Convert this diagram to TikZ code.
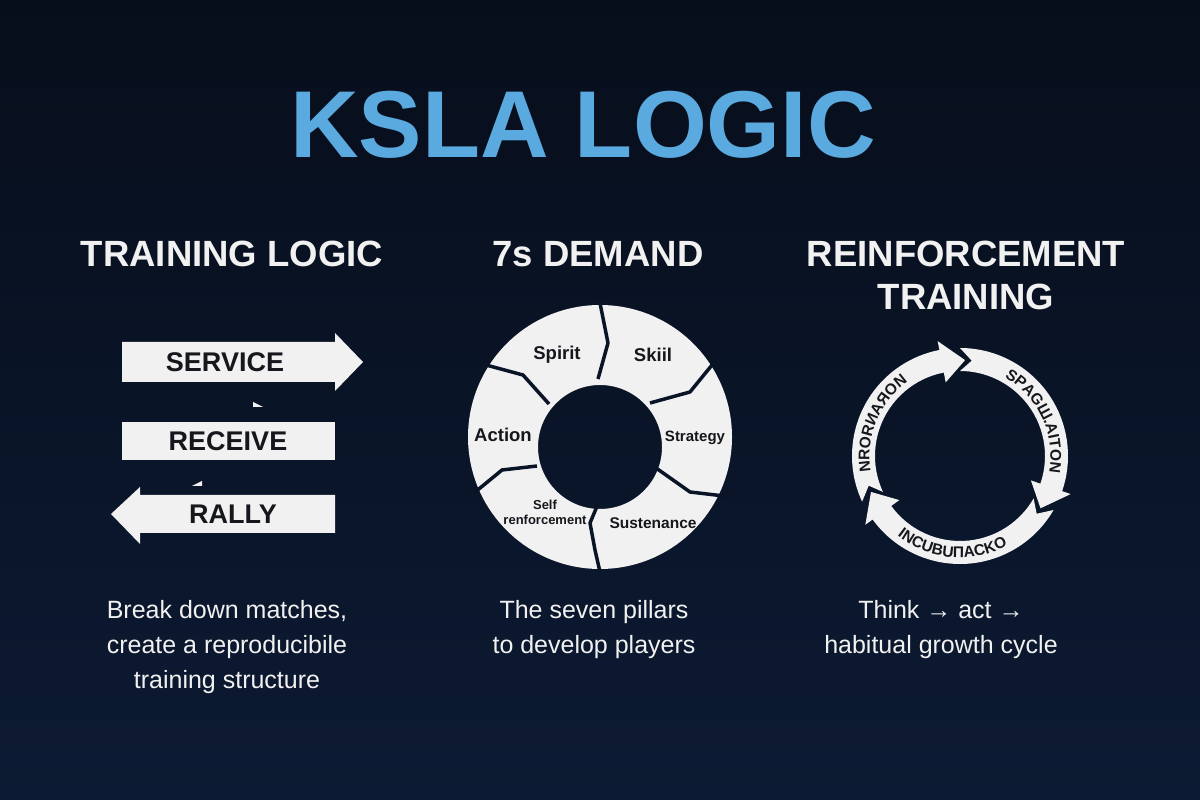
\documentclass[tikz,border=0pt]{standalone}
\usepackage{fontspec}
\setmainfont{Liberation Sans}
\usetikzlibrary{decorations.text}

\definecolor{bgtop}{HTML}{070E1B}
\definecolor{bgbot}{HTML}{0C1A33}
\definecolor{ksblue}{HTML}{5BAADF}
\definecolor{paper}{HTML}{F1F1F1}
\definecolor{ink}{HTML}{15171C}
\definecolor{cut}{HTML}{0A1427}

\tikzset{
  heading/.style={anchor=base, text=paper, font=\bfseries\fontsize{36.5}{43}\selectfont, align=center},
  caption/.style={anchor=north, inner sep=0pt, text=paper, font=\fontsize{25}{35}\selectfont, align=center},
  boxtext/.style={text=ink, font=\bfseries\fontsize{27}{30}\selectfont},
  pillar/.style={text=ink, font=\bfseries\fontsize{18.5}{19}\selectfont, align=center},
  cyctext/.style={decorate, decoration={text along path, text align=center, text color=ink}},
}

\begin{document}
\begin{tikzpicture}[x=1pt,y=1pt]

% background
\shade[top color=bgtop, bottom color=bgbot] (0,0) rectangle (1200,800);
\useasboundingbox (0,0) rectangle (1200,800);

% title and headings
\node[anchor=base, text=ksblue, font=\bfseries\fontsize{95}{100}\selectfont] (title) at (583,642) {KSLA LOGIC};
\node[heading] (htrain) at (232,533) {TRAINING LOGIC};
\node[heading] (hseven) at (598,533) {7s DEMAND};
\node[heading, anchor=north, inner sep=0pt] (hreinf) at (966,559) {REINFORCEMENT\\TRAINING};

% training logic arrows
\fill[paper] (122,418) -- (335,418) -- (335,409) -- (363,438) -- (335,467) -- (335,458) -- (122,458) -- cycle;
\fill[paper] (122,340) rectangle (335,378);
\fill[paper] (335,267) -- (140,267) -- (140,256) -- (111,286) -- (140,313) -- (140,305) -- (335,305) -- cycle;
\fill[paper] (253,398) -- (263,393) -- (253,393) -- cycle;
\fill[paper] (192,314) -- (202,319) -- (202,314) -- cycle;
\node[boxtext] (service) at (225,438) {SERVICE};
\node[boxtext] (receive) at (228,359) {RECEIVE};
\node[boxtext] (rally) at (233,286) {RALLY};

% 7s ring
\fill[paper, even odd rule] (600,363) circle (132pt) (600,353) circle (62pt);
\draw[cut, line width=3.5pt, line join=round]
  (600,497) -- (608,457) -- (598,421)
  (712,435) -- (690,408) -- (650,397)
  (656,332) -- (690,308) -- (724,304)
  (598,296) -- (590,277) -- (595,250) -- (600,228)
  (474,307) -- (502,330) -- (537,334)
  (486,435) -- (523,425) -- (549,396);
\node[pillar] (spirit) at (557,445) {Spirit};
\node[pillar] (skill) at (653,445) {Skiil};
\node[pillar] (action) at (503,365) {Action};
\node[pillar, font=\bfseries\fontsize{15}{15}\selectfont] (strategy) at (695,362) {Strategy};
\node[pillar, font=\bfseries\fontsize{13}{15}\selectfont] (selfre) at (545,288) {Self\\renforcement};
\node[pillar, font=\bfseries\fontsize{15.5}{16}\selectfont] (susten) at (653,277) {Sustenance};

% reinforcement cycle
\begin{scope}[shift={(960,344)}]
\foreach \ta/\tp in {205/87, 90/-33, -30/-158}{
  \pgfmathsetmacro\hb{\tp+14}
  \pgfmathsetmacro\nt{\ta-7}
  \fill[paper] (\ta:108pt) arc[start angle=\ta, end angle=\hb, radius=108pt]
    -- (\hb:117pt) -- (\tp:96pt) -- (\hb:75pt) -- (\hb:85pt)
    arc[start angle=\hb, end angle=\ta, radius=85pt] -- (\nt:96pt) -- cycle;
}
\path[cyctext, decoration={text={|\bfseries\fontsize{15.5}{15}\selectfont|NRORИAЯON}}]
  (210:90.5pt) arc[start angle=210, end angle=105, radius=90.5pt];
\path[cyctext, decoration={text={|\bfseries\fontsize{15.5}{15}\selectfont|SPAGШ.AITON}}]
  (78:90.5pt) arc[start angle=78, end angle=-28, radius=90.5pt];
\path[cyctext, decoration={text={|\bfseries\fontsize{15.5}{15}\selectfont|INCUBUПACKO}}]
  (212:101.5pt) arc[start angle=212, end angle=318, radius=101.5pt];
\end{scope}

% captions
\node[caption] (capl) at (227,200) {Break down matches,\\create a reproducibile\\training structure};
\node[caption] (capm) at (594,200) {The seven pillars\\to develop players};
\node[caption] (capr) at (941,200) {Think → act →\\habitual growth cycle};

\end{tikzpicture}
\end{document}
